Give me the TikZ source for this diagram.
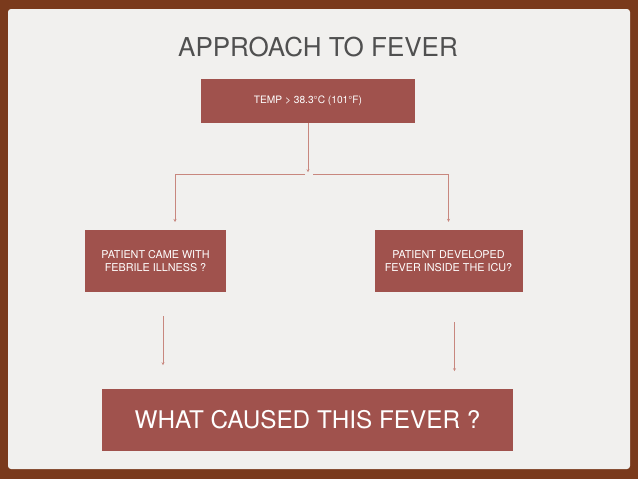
\documentclass[tikz,border=0pt]{standalone}
\usepackage{fontspec}
\setmainfont{TeX Gyre Heros}
\usetikzlibrary{positioning,arrows.meta}

\definecolor{framebrown}{HTML}{7A3A1C}
\definecolor{paper}{HTML}{F1F0EE}
\definecolor{boxred}{HTML}{A0524D}
\definecolor{linered}{HTML}{C8877E}
\definecolor{titlegray}{HTML}{505050}

\tikzset{
  redbox/.style={fill=boxred, text=white, align=center, inner sep=0pt,
    font=\fontsize{10.8}{12.5}\selectfont},
  arr/.style={draw=linered, line width=0.8pt, -{Stealth[length=3pt,width=3pt]}},
}

\begin{document}
\begin{tikzpicture}[x=1pt,y=-1pt]

    \def\universe{(0,0) rectangle (638,479)}

    %background:
    \fill[framebrown] \universe;
    \fill[paper, rounded corners=3pt] (8,9) rectangle (630,469);
    \useasboundingbox \universe;

    %title:
    \node[text=titlegray, font=\fontsize{26}{28}\selectfont] (title) at (318,47) {APPROACH TO FEVER};

    %boxes:
    \node[redbox, minimum width=214pt, minimum height=44pt, font=\fontsize{10.2}{12}\selectfont] (temp) at (308,101) {TEMP > 38.3°C (101°F)};
    \node[redbox, minimum width=141pt, minimum height=62pt] (came) at (155.5,261) {PATIENT CAME WITH\\FEBRILE ILLNESS ?};
    \node[redbox, minimum width=148pt, minimum height=62pt] (inside) at (448.5,261) {PATIENT DEVELOPED\\FEVER INSIDE THE ICU?};
    \node[redbox, minimum width=411pt, minimum height=62pt, font=\fontsize{24.3}{28}\selectfont] (cause) at (307.5,420) {WHAT CAUSED THIS FEVER ?};

    %connectors:
    \draw[arr] (temp.south) -- ++(0,49) coordinate (split);
    \coordinate (dropL) at (175,222);
    \draw[arr] ([xshift=-3pt,yshift=-2pt]split) -| (dropL);
    \draw[arr] ([xshift=5pt,yshift=-2pt]split) -| ([yshift=8pt]inside.north);

    \path (came.south) ++(7.5,24) coordinate (fromL) ++(0,49) coordinate (toL);
    \path (inside.south) ++(6,30) coordinate (fromR) ++(0,49) coordinate (toR);
    \draw[arr] (fromL) -- (toL);
    \draw[arr] (fromR) -- (toR);

\end{tikzpicture}
\end{document}
